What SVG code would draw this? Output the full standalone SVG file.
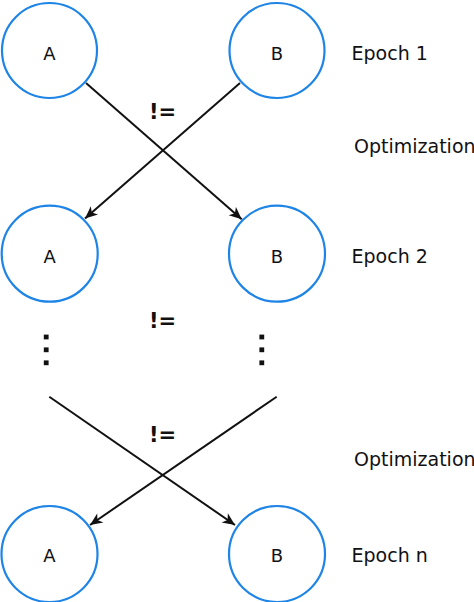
<svg xmlns="http://www.w3.org/2000/svg" width="474" height="602" viewBox="0 0 474 602">
<style>
.node{fill:#ffffff;stroke:#1E84E6;stroke-width:2.2}
.lbl{font-family:"DejaVu Sans","Verdana",sans-serif;font-size:18px;fill:#111;text-anchor:middle}
.side{font-family:"DejaVu Sans","Verdana",sans-serif;font-size:19px;fill:#111}
.neq{font-family:"DejaVu Sans","Verdana",sans-serif;font-size:21px;font-weight:bold;fill:#111;text-anchor:middle}
.edge{fill:none;stroke:#111;stroke-width:2}
.dot{fill:#111}
</style>
<defs>
<marker id="arr" viewBox="0 0 14 12" refX="13" refY="6" markerWidth="14" markerHeight="12" markerUnits="userSpaceOnUse" orient="auto">
<path d="M0.5,0.5 L13,6 L0.5,11.5 L4,6 Z" fill="#111"/>
</marker>
</defs>
<rect width="474" height="602" fill="#ffffff"/>
<g id="connectors">
<line class="edge" x1="86" y1="83" x2="241.7" y2="219.3" marker-end="url(#arr)"/>
<line class="edge" x1="240" y1="83" x2="85" y2="218.5" marker-end="url(#arr)"/>
<line class="edge" x1="49.3" y1="396.7" x2="235" y2="525" marker-end="url(#arr)"/>
<line class="edge" x1="276.7" y1="396.7" x2="90" y2="525" marker-end="url(#arr)"/>
</g>
<g id="nodeA1"><circle class="node" cx="49.5" cy="50.5" r="47.5"/><text class="lbl" x="49.5" y="59.5">A</text></g>
<g id="nodeB1"><circle class="node" cx="277" cy="50.5" r="47.5"/><text class="lbl" x="277" y="59.5">B</text></g>
<g id="nodeA2"><circle class="node" cx="49.7" cy="253.7" r="48"/><text class="lbl" x="49.7" y="262.5">A</text></g>
<g id="nodeB2"><circle class="node" cx="277" cy="253.7" r="48"/><text class="lbl" x="277" y="262.5">B</text></g>
<g id="nodeA3"><circle class="node" cx="49.5" cy="554" r="48"/><text class="lbl" x="49.5" y="561.5">A</text></g>
<g id="nodeB3"><circle class="node" cx="277" cy="554" r="48"/><text class="lbl" x="277" y="561.5">B</text></g>
<g id="neq1"><text class="neq" x="162.5" y="119">!=</text></g>
<g id="neq2"><text class="neq" x="162.5" y="328">!=</text></g>
<g id="neq3"><text class="neq" x="162.5" y="442">!=</text></g>
<g id="dotsLeft">
<rect class="dot" x="43.8" y="334.6" width="4.8" height="4.8"/>
<rect class="dot" x="43.8" y="347.4" width="4.8" height="4.8"/>
<rect class="dot" x="43.8" y="360.4" width="4.8" height="4.8"/>
</g>
<g id="dotsRight">
<rect class="dot" x="259.4" y="334.6" width="4.8" height="4.8"/>
<rect class="dot" x="259.4" y="347.4" width="4.8" height="4.8"/>
<rect class="dot" x="259.4" y="360.4" width="4.8" height="4.8"/>
</g>
<g id="epoch1"><text class="side" x="351.5" y="60">Epoch 1</text></g>
<g id="optimization1"><text class="side" x="354" y="153">Optimization</text></g>
<g id="epoch2"><text class="side" x="351.5" y="262.5">Epoch 2</text></g>
<g id="optimization2"><text class="side" x="354" y="465.5">Optimization</text></g>
<g id="epochN"><text class="side" x="351.5" y="561.5">Epoch n</text></g>
</svg>
